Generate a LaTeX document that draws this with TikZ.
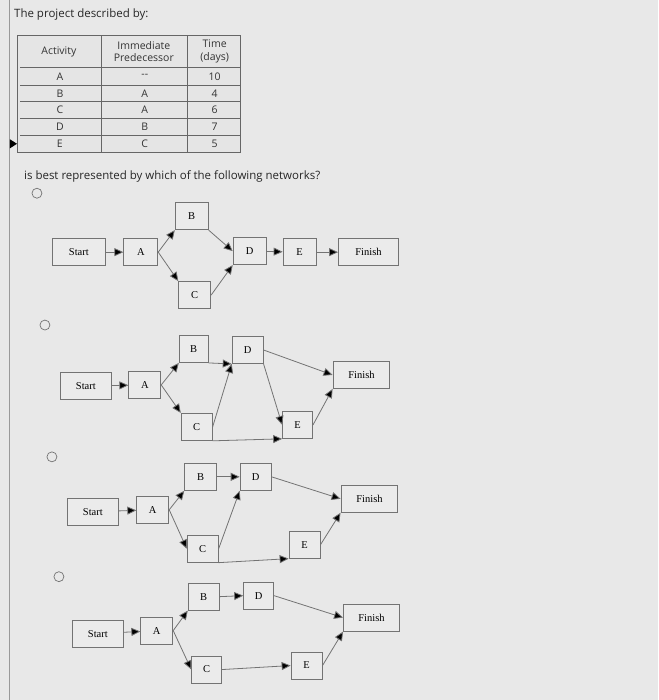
\documentclass[tikz,border=0pt]{standalone}
\usepackage{fontspec}
\setmainfont{Liberation Serif}
\newfontfamily\uifont{Open Sans}
\usetikzlibrary{arrows.meta}
\begin{document}
\begin{tikzpicture}[x=1pt,y=-1pt,
  bx/.style={draw=black!55,line width=0.9pt,fill=black!8,minimum height=27pt,inner sep=0pt,font=\fontsize{10.5}{12}\selectfont},
  ed/.style={draw=black!55,line width=0.8pt,-{Triangle[length=9pt,width=8pt,fill=black]}},
  ui/.style={font=\uifont\fontsize{11.5}{13}\selectfont,text=black!85,inner sep=0pt},
  tc/.style={font=\uifont\fontsize{10.5}{12.5}\selectfont,text=black!80,inner sep=0pt},
  radio/.style={circle,draw=black!55,line width=0.7pt,minimum size=10pt,inner sep=0pt}]
\fill[black!9] (0,0) rectangle (659,700);
\draw[black!40,line width=1pt] (10,0) -- (10,700);
\node[ui,anchor=west] (title) at (14,14) {The project described by:};
% table
\fill[white!90!black] (17,35) rectangle (241,152);
\draw[black!60,line width=0.8pt] (17,35) rectangle (241,152);
\foreach \y in {67,85,101,118,135} \draw[black!60,line width=0.7pt] (20,\y) -- (241,\y);
\draw[black!60,line width=0.7pt] (101,35) -- (101,152) (188,35) -- (188,152);
\node[tc] (h1) at (59,51) {Activity};
\node[tc,align=center] (h2) at (144,51) {Immediate\\Predecessor};
\node[tc,align=center] (h3) at (215,51) {Time\\(days)};
\foreach \a/\p/\t [count=\i] in {A/--/10,B/A/4,C/A/6,D/B/7,E/C/5}{
  \pgfmathsetmacro\yy{{67,85,101,118,135,152}[\i-1]/2+{67,85,101,118,135,152}[\i]/2}
  \node[tc] (ra\i) at (60,\yy) {\a};
  \node[tc] (rp\i) at (145,\yy) {\p};
  \node[tc] (rt\i) at (215,\yy) {\t};
}
\fill[black] (10,139) -- (17,143.5) -- (10,148) -- cycle;
\node[ui,anchor=west] (q) at (24,176) {is best represented by which of the following networks?};
\node[radio] (r1) at (37,193) {};
\node[radio] (r2) at (45,325) {};
\node[radio] (r3) at (52,457) {};
\node[radio] (r4) at (59,577) {};
% network 1
\node[bx,minimum width=53pt] (s1) at (79,252) {Start};
\node[bx,minimum width=34pt] (a1) at (141,252) {A};
\node[bx,minimum width=33pt] (b1) at (192,216) {B};
\node[bx,minimum width=32pt] (c1) at (195,295) {C};
\node[bx,minimum width=33pt] (d1) at (250,251) {D};
\node[bx,minimum width=33pt] (e1) at (300,252) {E};
\node[bx,minimum width=60pt] (f1) at (369,252) {Finish};
\draw[ed] (s1) -- (a1);
\draw[ed] (a1.east) -- (b1.south west);
\draw[ed] (a1.east) -- (c1.north west);
\draw[ed] (b1.south east) -- (d1.west);
\draw[ed] (c1.east) -- (d1.south west);
\draw[ed] (d1) -- (e1);
\draw[ed] (e1) -- (f1);
% network 2
\node[bx,minimum width=51pt] (s2) at (86,386) {Start};
\node[bx,minimum width=32pt] (a2) at (145,385) {A};
\node[bx,minimum width=29pt] (b2) at (194,349) {B};
\node[bx,minimum width=31pt] (d2) at (248,350) {D};
\node[bx,minimum width=57pt] (f2) at (362,375) {Finish};
\node[bx,minimum width=31pt] (c2) at (197,427) {C};
\node[bx,minimum width=30pt] (e2) at (298,425) {E};
\draw[ed] (s2) -- (a2);
\draw[ed] (a2.east) -- (b2.south west);
\draw[ed] (a2.east) -- (c2.north west);
\draw[ed] (b2.south east) -- (d2.south west);
\draw[ed] (c2.east) -- (d2.south west);
\draw[ed] (d2.east) -- (f2.west);
\draw[ed] (d2.south east) -- (e2.west);
\draw[ed] (c2.south east) -- (e2.south west);
\draw[ed] (e2.east) -- (f2.south west);
% network 3
\node[bx,minimum width=51pt] (s3) at (93,512) {Start};
\node[bx,minimum width=32pt] (a3) at (153,510) {A};
\node[bx,minimum width=32pt] (b3) at (201,477) {B};
\node[bx,minimum width=31pt] (d3) at (256,477) {D};
\node[bx,minimum width=57pt] (f3) at (370,499) {Finish};
\node[bx,minimum width=31pt] (c3) at (203,549) {C};
\node[bx,minimum width=31pt] (e3) at (305,545) {E};
\draw[ed] (s3) -- (a3);
\draw[ed] (a3.east) -- (b3.south west);
\draw[ed] (a3.east) -- (c3.west);
\draw[ed] (b3.east) -- (d3.west);
\draw[ed] (c3.east) -- (d3.south west);
\draw[ed] (c3.south east) -- (e3.south west);
\draw[ed] (d3.east) -- (f3.west);
\draw[ed] (e3.east) -- (f3.south west);
% network 4
\node[bx,minimum width=51pt] (s4) at (98,634) {Start};
\node[bx,minimum width=32pt] (a4) at (157,631) {A};
\node[bx,minimum width=31pt] (b4) at (204,597) {B};
\node[bx,minimum width=30pt] (d4) at (259,596) {D};
\node[bx,minimum width=56pt] (f4) at (372,618) {Finish};
\node[bx,minimum width=30pt] (c4) at (207,670) {C};
\node[bx,minimum width=31pt] (e4) at (307,666) {E};
\draw[ed] (s4) -- (a4);
\draw[ed] (a4.east) -- (b4.south west);
\draw[ed] (a4.east) -- (c4.west);
\draw[ed] (b4.east) -- (d4.west);
\draw[ed] (d4.east) -- (f4.west);
\draw[ed] (c4.east) -- (e4.west);
\draw[ed] (e4.east) -- (f4.south west);
\end{tikzpicture}
\end{document}
